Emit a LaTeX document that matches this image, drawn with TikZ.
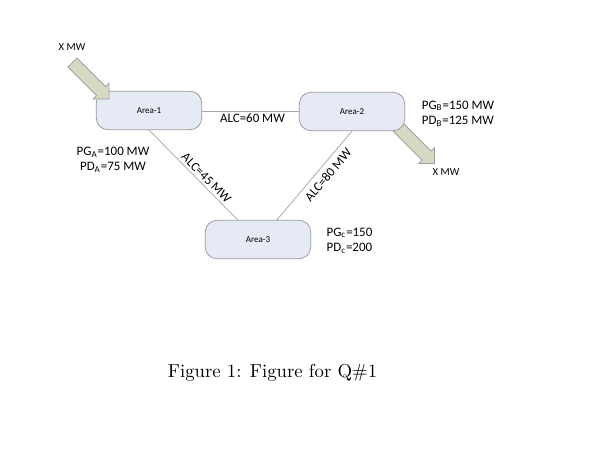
\documentclass[tikz,border=0pt]{standalone}
\usepackage{fontspec}
\newfontfamily\calfont{Carlito}
\usetikzlibrary{shapes.arrows}

\definecolor{areafill}{HTML}{E6EAF4}
\definecolor{areadraw}{HTML}{9A9A9A}
\definecolor{arrowfill}{HTML}{D7D9C2}
\definecolor{arrowdraw}{HTML}{A0A0A0}
\definecolor{linkgray}{HTML}{A8A8A8}

\tikzset{
    area/.style={draw=areadraw, fill=areafill, rounded corners=6.2pt,
        minimum width=56.3pt, minimum height=20.5pt, inner sep=0pt,
        font=\calfont\fontsize{4.8}{5.8}\selectfont},
    link/.style={draw=linkgray, line width=0.4pt},
    flow/.style={single arrow, draw=arrowdraw, fill=arrowfill,
        minimum height=27.7pt, inner sep=3.2pt, single arrow head extend=2.67pt},
    lbl/.style={font=\calfont\fontsize{6.9}{8.2}\selectfont, inner sep=1.4pt},
    xmw/.style={font=\calfont\fontsize{5.7}{6.8}\selectfont}
}

\begin{document}
\begin{tikzpicture}[x=0.534pt, y=-0.534pt]  % one unit = one pixel of the reference, y going down
    \useasboundingbox (0,0) rectangle (591,474);

    % Outgoing flow sits under Area-2
    \node[flow, rotate=-45] (outflow) at (414,143) {};

    % The three areas
    \node[area] (a1) at (149,110.5) {Area-1};
    \node[area] (a2) at (352,111.5) {Area-2};
    \node[area] (a3) at (258,239.5) {Area-3};

    % Incoming flow into Area-1
    \node[flow, rotate=-45] (inflow) at (88.5,78.5) {};

    % Tie lines with their limits
    \draw[link] (a1.east |- 0,111) -- node[lbl, below, pos=0.52] (l12) {ALC=60 MW} (a2.west |- 0,111);
    \draw[link] (a1.south) -- node[lbl, above, sloped, pos=0.59] (l13) {ALC=45 MW} (a3.136);
    \draw[link] (a3.46) -- node[lbl, below, sloped, pos=0.58, inner sep=2.8pt] (l23) {ALC=80 MW} (a2.south);

    % Flow labels
    \node[xmw] (xin) at (72,47) {X MW};
    \node[xmw] (xout) at (446,172) {X MW};

    % Generation and demand of each area
    \node[lbl, align=center] (pa) at (113,160) {PG\textsubscript{A}=100 MW\\PD\textsubscript{A}=75 MW};
    \node[lbl, align=left] (pb) at (458,113.5) {PG\textsubscript{B}=150 MW\\PD\textsubscript{B}=125 MW};
    \node[lbl, align=left] (pc) at (349.5,240.5) {PG\textsubscript{c}=150\\PD\textsubscript{c}=200};

    % Caption
    \node (cap) at (272.5,373) {Figure 1: Figure for Q\#1};
\end{tikzpicture}
\end{document}
